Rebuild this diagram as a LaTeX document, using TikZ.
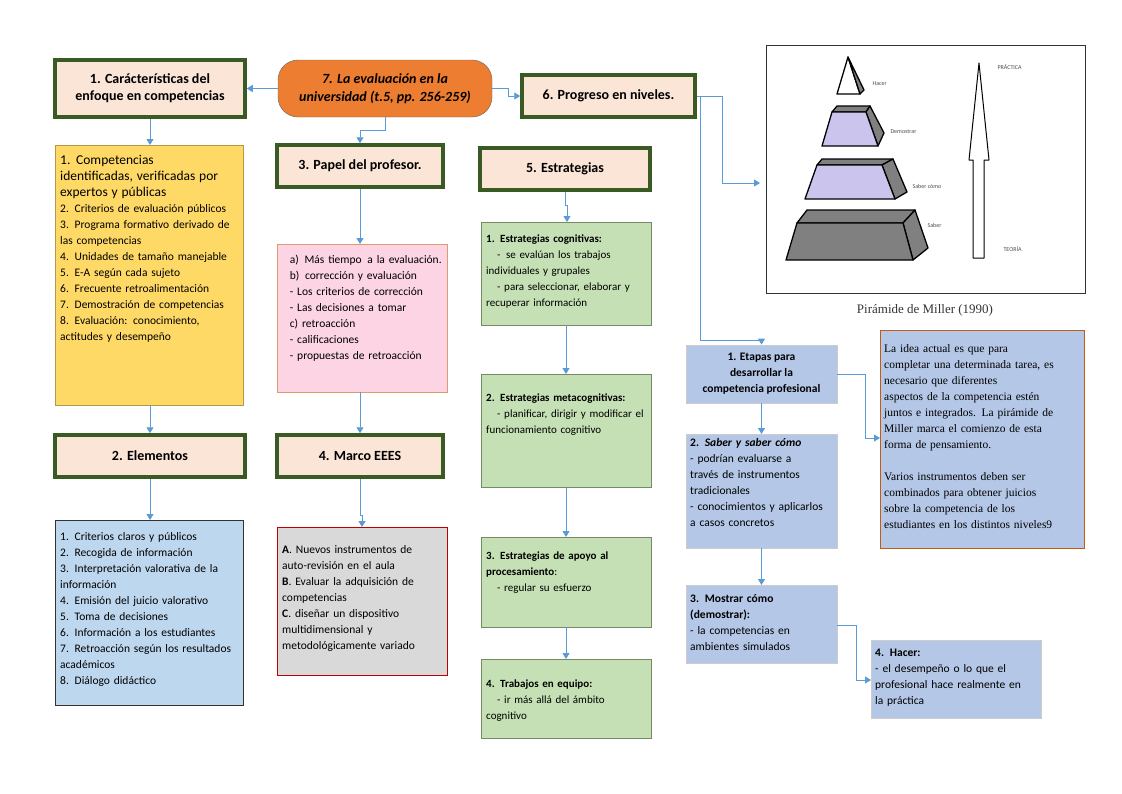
\documentclass[tikz,border=0pt]{standalone}
\usepackage{fontspec}
\setmainfont{Carlito}
\newfontfamily\serifx{Liberation Serif}
\usetikzlibrary{arrows.meta}
\definecolor{dgreen}{HTML}{3A5A24}
\definecolor{peach}{HTML}{FBE5D6}
\definecolor{orng}{HTML}{ED7D31}
\definecolor{conn}{HTML}{5B9BD5}
\definecolor{yel}{HTML}{FFD966}
\definecolor{pnk}{HTML}{FCD4E4}
\definecolor{lblue}{HTML}{BDD7EE}
\definecolor{gry}{HTML}{D9D9D9}
\definecolor{grn}{HTML}{C5E0B4}
\definecolor{bblue}{HTML}{B4C7E7}
\definecolor{purp}{HTML}{CBC5EE}
\definecolor{rust}{HTML}{C55A11}
\begin{document}
\hyphenpenalty=10000 \exhyphenpenalty=10000
\begin{tikzpicture}[x=1pt,y=-1pt,
 head/.style={draw=dgreen,line width=3.5pt,fill=peach,font=\fontsize{14}{17}\selectfont\bfseries,align=center,inner sep=2pt},
 lst/.style={anchor=north west,align=left,inner sep=5pt,font=\fontsize{11.5}{16}\selectfont},
 gl/.style={lst,text width=160pt,font=\fontsize{11}{16}\selectfont},
 gbox/.style={draw=dgreen!70,fill=grn,line width=0.8pt},
 bbox/.style={draw=black!20,fill=bblue,line width=0.8pt},
 conn/.style={draw=conn,line width=0.9pt,-{Triangle[width=7pt,length=6pt]}},
 plab/.style={font=\fontsize{6}{7}\selectfont,anchor=west,text=black!70}]
\useasboundingbox (0,0) rectangle (1122,793);
% header boxes
\node[head,minimum width=190pt,minimum height=57pt] (b1) at (150,88.5) {1. Carácterísticas del\\enfoque en competencias};
\node[draw=black!60,fill=orng,rounded corners=20pt,minimum width=214pt,minimum height=57pt,align=center,font=\fontsize{14}{18}\selectfont\bfseries\itshape] (b7) at (385,88.5) {7. La evaluación en la\\universidad (t.5, pp. 256-259)};
\node[head,minimum width=173pt,minimum height=42pt] (b6) at (608.5,96) {6. Progreso en niveles.};
\node[head,minimum width=166pt,minimum height=42pt] (b3) at (360,166) {3. Papel del profesor.};
\node[head,minimum width=170pt,minimum height=42pt] (b5) at (565,169) {5. Estrategias};
\node[head,minimum width=190pt,minimum height=42pt] (b2) at (150,456) {2. Elementos};
\node[head,minimum width=166pt,minimum height=42pt] (b4) at (360,456) {4. Marco EEES};
% list boxes
\draw[draw=yel!70!black,fill=yel] (55,145) rectangle (243,405);
\node[lst,text width=178pt] (yl) at (55,150) {{\fontsize{13.5}{18}\selectfont 1. Competencias\\identificadas, verificadas por expertos y públicas}\\
2. Criterios de evaluación públicos\\3. Programa formativo derivado de las competencias\\4. Unidades de tamaño manejable\\5. E-A según cada sujeto\\6. Frecuente retroalimentación\\7. Demostración de competencias\\8. Evaluación: conocimiento, actitudes y desempeño};
\coordinate (ytop) at (150,145); \coordinate (ybot) at (150,405);
\draw[fill=pnk,draw=rust!60] (277,244) rectangle (447,392);
\node[lst,text width=160pt] at (277,250) {\ \ a) \,Más tiempo \,a la evaluación.\\\ \ b) \,corrección y evaluación\\\ \ - Los criterios de corrección\\\ \ - Las decisiones a tomar\\\ \ c) retroacción\\\ \ - calificaciones\\\ \ - propuestas de retroacción};
\coordinate (ptop) at (360,244); \coordinate (pbot) at (360,392);
\draw[fill=lblue,draw=black!80] (55,520) rectangle (243,705);
\node[lst,text width=178pt] at (55,527) {1. Criterios claros y públicos\\2. Recogida de información\\3. Interpretación valorativa de la información\\4. Emisión del juicio valorativo\\5. Toma de decisiones\\6. Información a los estudiantes\\7. Retroacción según los resultados académicos\\8. Diálogo didáctico};
\coordinate (ltop) at (150,520);
\draw[fill=gry,draw=red!75!black] (277,527) rectangle (447,675);
\node[lst,text width=160pt] at (277,540) {\textbf{A}. Nuevos instrumentos de auto-revisión en el aula\\\textbf{B}. Evaluar la adquisición de competencias\\\textbf{C}. diseñar un dispositivo multidimensional y metodológicamente variado};
\coordinate (gtop) at (362,527);
% green boxes
\draw[gbox] (481,222) rectangle (651,325);
\node[gl] at (481,230) {\textbf{1. Estrategias cognitivas:}\\\ \ \ - \,se evalúan los trabajos individuales y grupales\\\ \ \ - para seleccionar, elaborar y recuperar información};
\draw[gbox] (481,374) rectangle (651,487);
\node[gl] at (481,389) {\textbf{2. Estrategias metacognitivas:}\\\ \ \ - planificar, dirigir y modificar el funcionamiento cognitivo};
\draw[gbox] (481,537) rectangle (651,627);
\node[gl] at (481,547) {\textbf{3. Estrategias de apoyo al procesamiento}:\\\ \ \ - regular su esfuerzo};
\draw[gbox] (481,659) rectangle (651,738);
\node[gl] at (481,675) {\textbf{4. Trabajos en equipo:}\\\ \ \ - ir más allá del ámbito cognitivo};
% right blue boxes
\node[bbox,minimum width=151pt,minimum height=58pt,align=center,font=\fontsize{11.5}{16}\selectfont\bfseries] (e1) at (761.5,374) {1. Etapas para\\desarrollar la\\competencia profesional};
\draw[bbox] (686,434) rectangle (837,548);
\node[lst,text width=140pt,inner sep=4pt] at (686,434) {\textbf{2. \textit{Saber y saber cómo}}\\- podrían evaluarse a través de instrumentos tradicionales\\- conocimientos y aplicarlos a casos concretos};
\draw[bbox] (686,585) rectangle (837,663);
\node[lst,text width=140pt,inner sep=4pt] at (686,590) {\textbf{3. Mostrar cómo (demostrar):}\\- la competencias en ambientes simulados};
\draw[bbox] (871,640) rectangle (1041,718);
\node[lst,text width=160pt,inner sep=4pt] at (871,645) {\textbf{4. Hacer:}\\- el desempeño o lo que el profesional hace realmente en la práctica};
\draw[fill=bblue,draw=rust,line width=0.8pt] (880,330) rectangle (1084,548);
\node[lst,text width=215pt,inner sep=4pt,font=\serifx\fontsize{11.5}{16}\selectfont] at (880,340) {La idea actual es que para\\completar una determinada tarea, es\\necesario que diferentes\\aspectos de la competencia estén\\juntos e integrados. La pirámide de\\Miller marca el comienzo de esta\\forma de pensamiento.\\[16pt]Varios instrumentos deben ser\\combinados para obtener juicios\\sobre la competencia de los\\estudiantes en los distintos niveles9};
% pyramid figure
\draw[line width=1pt,draw=black!80] (766,45) rectangle (1085,293);
\node[font=\serifx\fontsize{13}{15}\selectfont,text=black!80] at (925,310) {Pirámide de Miller (1990)};
\begin{scope}[line width=1.3pt,line join=round]
\draw[fill=white] (848,57) -- (837,94) -- (860,94) -- cycle;
\draw[fill=gray] (848,57) -- (864,90) -- (860,94) -- cycle;
\draw[fill=gray] (832,112) -- (837,106) -- (870,106) -- (866,112) -- cycle;
\draw[fill=gray] (866,112) -- (870,106) -- (884,133) -- (878,146) -- cycle;
\draw[fill=purp] (832,112) -- (866,112) -- (878,146) -- (822,146) -- cycle;
\draw[fill=gray] (817,165) -- (822,159) -- (893,159) -- (882,165) -- cycle;
\draw[fill=gray] (882,165) -- (893,159) -- (907,192) -- (895,199) -- cycle;
\draw[fill=purp] (817,165) -- (882,165) -- (895,199) -- (805,199) -- cycle;
\draw[fill=gray] (797,223) -- (807,210) -- (915,210) -- (903,223) -- cycle;
\draw[fill=gray] (903,223) -- (915,210) -- (928,248) -- (913,260) -- cycle;
\draw[fill=gray] (797,223) -- (903,223) -- (913,260) -- (786,260) -- cycle;
\draw[fill=white,line width=1pt] (973,258) -- (973,160) -- (969,160) -- (979,63) -- (989,160) -- (984,160) -- (984,258) -- cycle;
\end{scope}
\node[plab] at (869,84) {Hacer};
\node[plab] at (887,132) {Demostrar};
\node[plab] at (909,186) {Saber cómo};
\node[plab] at (924,225) {Saber};
\node[plab] at (994,67) {PRÁCTICA};
\node[plab] at (1000,249) {TEORÍA};
\coordinate (pyr) at (760,183);
% connectors
\draw[conn] (b7.west) -- (b1.east);
\draw[conn] (b7.east) -- (508,88.5) |- (b6.west);
\draw[conn] (b7.south) -- (385,130) -| (b3.north);
\draw[conn] (b1.south) -- (ytop);
\draw[conn] (b3.south) -- (ptop);
\draw[conn] (pbot) -- (b4.north);
\draw[conn] (ybot) -- (b2.north);
\draw[conn] (b2.south) -- (ltop);
\draw[conn] (b4.south) -- (360,515) -| (gtop);
\draw[conn] (b5.south) -- (565,205) -| (567,222);
\draw[conn] (566,325) -- (566,374);
\draw[conn] (566,487) -- (566,537);
\draw[conn] (566,627) -- (566,659);
\draw[conn] (b6.east) -- (722,96) |- (pyr);
\draw[conn] (700,96) -- (700,340) -| (e1.north);
\draw[conn] (e1.east) -- (865,374) |- (880,438);
\draw[conn] (e1.south) -- (761.5,434);
\draw[conn] (761.5,548) -- (761.5,585);
\draw[conn] (837,625) -- (856,625) |- (871,680);
\end{tikzpicture}
\end{document}
